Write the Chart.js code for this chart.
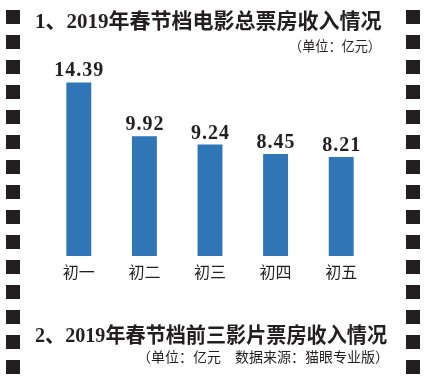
<!DOCTYPE html>
<html>
<head>
<meta charset="utf-8">
<script src="https://cdn.jsdelivr.net/npm/chart.js@4"></script>
<style>
  html, body { margin: 0; padding: 0; background: #fff; }
  #wrap { position: relative; width: 428px; height: 379px; }
</style>
</head>
<body>
<div id="wrap"><canvas id="boxChart" width="428" height="379"></canvas></div>
<script>
// 春节档每日票房（亿元）
const days = ['初一', '初二', '初三', '初四', '初五'];
const boxOffice = [14.39, 9.92, 9.24, 8.45, 8.21];
const valueLabels = ['14.39', '9.92', '9.24', '8.45', '8.21'];

const cjkSans = '"Noto Sans CJK SC", "Noto Sans", sans-serif';
const numSerif = '"Liberation Serif", "DejaVu Serif", serif';

// 写一行字，超宽时横向压缩
function putText(ctx, text, x, y, align, width) {
  ctx.textAlign = align;
  const w = ctx.measureText(text).width;
  ctx.fillText(text, x, y, Math.min(w, width));
}

// 两侧的胶片孔 + 标题文字
const filmDeco = {
  id: 'filmDeco',
  beforeDraw(chart) {
    const ctx = chart.ctx;
    ctx.save();
    ctx.fillStyle = '#231f20';
    for (let y = 10; y < 379; y += 25) {
      ctx.fillRect(6, y, 14, 14);
      ctx.fillRect(406, y, 14, 14);
    }
    ctx.textBaseline = 'middle';
    ctx.font = 'bold 21px "Liberation Serif", "Noto Sans CJK SC", serif';
    putText(ctx, '1、2019年春节档电影总票房收入情况', 35, 23, 'left', 347);
    putText(ctx, '2、2019年春节档前三影片票房收入情况', 35, 337, 'left', 352);
    ctx.font = '14px "Liberation Serif", "Noto Sans CJK SC", serif';
    putText(ctx, '（单位：亿元）', 381, 47, 'right', 92);
    putText(ctx, '（单位：亿元　数据来源：猫眼专业版）', 389, 358, 'right', 270);
    ctx.restore();
  }
};

// 柱顶数值
const barValues = {
  id: 'barValues',
  afterDatasetsDraw(chart) {
    const ctx = chart.ctx;
    const meta = chart.getDatasetMeta(0);
    ctx.save();
    ctx.fillStyle = '#231f20';
    ctx.font = 'bold 20px ' + numSerif;
    ctx.letterSpacing = '1px';
    ctx.textAlign = 'center';
    ctx.textBaseline = 'alphabetic';
    meta.data.forEach((bar, i) => {
      ctx.fillText(valueLabels[i], bar.x + 0.5, bar.y - 6);
    });
    ctx.restore();
  }
};

new Chart(document.getElementById('boxChart'), {
  type: 'bar',
  data: {
    labels: days,
    datasets: [{
      data: boxOffice,
      backgroundColor: '#3075b5',
      barPercentage: 0.38,
      categoryPercentage: 1
    }]
  },
  options: {
    responsive: false,
    animation: false,
    layout: { padding: { top: 63, left: 46, right: 54, bottom: 99 } },
    plugins: {
      legend: { display: false },
      tooltip: { enabled: false }
    },
    scales: {
      x: {
        grid: { display: false },
        border: { display: false },
        ticks: { color: '#231f20', font: { family: cjkSans, size: 16, lineHeight: 1 }, padding: 0 }
      },
      y: {
        display: false,
        min: 0,
        max: 16
      }
    }
  },
  plugins: [filmDeco, barValues]
});
</script>
</body>
</html>
